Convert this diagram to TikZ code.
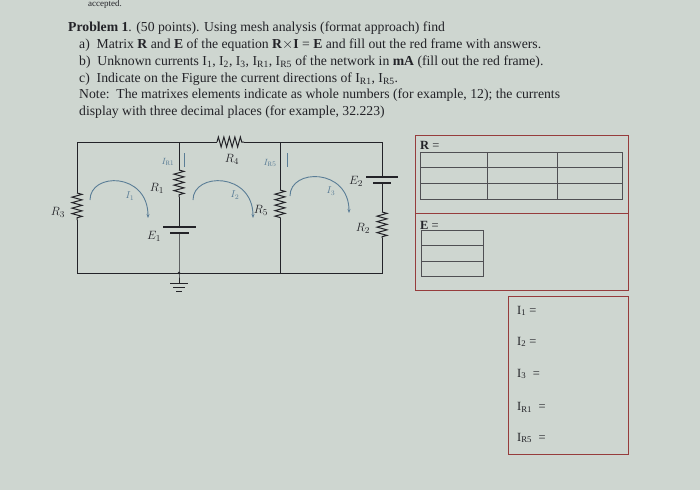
\documentclass[tikz,border=0pt]{standalone}
\usepackage{fontspec}
\setmainfont{Liberation Serif}
\usetikzlibrary{decorations.pathmorphing,arrows.meta}
\definecolor{bgc}{RGB}{206,214,208}
\definecolor{ink}{RGB}{35,35,40}
\definecolor{frm}{RGB}{150,60,60}
\definecolor{mesh}{RGB}{90,125,150}
\tikzset{
 txt/.style={anchor=west,inner sep=0pt,text=ink,font=\fontsize{13.7}{15}\selectfont},
 lbl/.style={inner sep=0pt,text=ink,font=\fontsize{12.5}{13}\selectfont\itshape},
 wire/.style={draw=ink,line width=0.9pt},
 res/.style={draw=ink,line width=1pt,decorate,decoration={zigzag,segment length=5.5pt,amplitude=5pt}},
 plate/.style={draw=ink,line width=1.6pt},
 meshar/.style={draw=mesh,line width=0.9pt,-{Stealth[length=4pt]}},
 redbox/.style={draw=frm,line width=1pt},
 cell/.style={draw=ink!80,line width=0.8pt},
 ans/.style={anchor=west,inner sep=0pt,text=ink,font=\fontsize{12.5}{13}\selectfont}
}
\begin{document}
\begin{tikzpicture}[x=1pt,y=-1pt]
\useasboundingbox (0,0) rectangle (700,490);
\fill[bgc] (0,0) rectangle (700,490);
\node[txt,font=\fontsize{9}{10}\selectfont] (acc) at (88,4) {accepted.};
% problem text
\node[txt] (t0) at (68,28) {\textbf{Problem 1}. (50 points). Using mesh analysis (format approach) find};
\node[txt] (t1) at (79,45) {a)\enspace Matrix \textbf{R} and \textbf{E} of the equation \textbf{R}$\times$\textbf{I} = \textbf{E} and fill out the red frame with answers.};
\node[txt] (t2) at (79,62) {b)\enspace Unknown currents I\textsubscript{1}, I\textsubscript{2}, I\textsubscript{3}, I\textsubscript{R1}, I\textsubscript{R5} of the network in \textbf{mA} (fill out the red frame).};
\node[txt] (t3) at (79,79) {c)\enspace Indicate on the Figure the current directions of I\textsubscript{R1}, I\textsubscript{R5}.};
\node[txt] (t4) at (79,95) {Note:\, The matrixes elements indicate as whole numbers (for example, 12); the currents};
\node[txt] (t5) at (79,112) {display with three decimal places (for example, 32.223)};
% circuit corners
\coordinate (tl) at (77,142); \coordinate (bl) at (77,273);
\coordinate (t1c) at (179,142); \coordinate (b1c) at (179,273);
\coordinate (t2c) at (280,142); \coordinate (b2c) at (280,273);
\coordinate (tr) at (382,142); \coordinate (br) at (382,273);
% outer loop
\draw[wire] (t1c) -- (tl) -- (77,193);
\draw[res] (77,193) -- (77,220);
\draw[wire] (77,220) -- (bl) -- (br) -- (382,238);
\draw[wire] (t1c) -- (217,142);
\draw[res] (217,142) -- (244,142);
\draw[wire] (244,142) -- (tr) -- (382,177);
% E2
\draw[plate] (366,177) -- (398,177);
\draw[plate] (373,183) -- (391,183);
\draw[wire] (382,183) -- (382,212);
\draw[res] (382,212) -- (382,238);
% middle branch 1
\draw[wire] (t1c) -- (179,170);
\draw[res] (179,170) -- (179,197);
\draw[wire] (179,197) -- (179,227);
\draw[plate] (163,227) -- (196,227);
\draw[plate] (170,233) -- (189,233);
\draw[wire] (179,233) -- (b1c) -- (179,283);
\fill[ink] (b1c) circle (1.3);
\draw[wire] (170,283) -- (188,283);
\draw[wire] (173,287) -- (185,287);
\draw[wire] (176,291) -- (182,291);
% middle branch 2
\draw[wire] (t2c) -- (280,190);
\draw[res] (280,190) -- (280,218);
\draw[wire] (280,218) -- (b2c);
% labels
\node[lbl] (lR3) at (58,212) {$R_3$};
\node[lbl] (lR1) at (157,188) {$R_1$};
\node[lbl] (lE1) at (154,236) {$E_1$};
\node[lbl] (lR4) at (232,159) {$R_4$};
\node[lbl] (lR5) at (261,210) {$R_5$};
\node[lbl] (lE2) at (356,181) {$E_2$};
\node[lbl] (lR2) at (363,228) {$R_2$};
\node[lbl,text=mesh,font=\fontsize{9.5}{10}\selectfont\itshape] (lIR1) at (168,162) {$I_{\mathrm{R}1}$};
\node[lbl,text=mesh,font=\fontsize{9.5}{10}\selectfont\itshape] (lIR5) at (270,163) {$I_{\mathrm{R}5}$};
\draw[draw=mesh,line width=0.9pt] (184,153) -- (184,167);
\draw[draw=mesh,line width=0.9pt] (287,153) -- (287,167);
% mesh currents
\draw[meshar] (90,200) .. controls (90,172) and (148,172) .. (148,218);
\draw[meshar] (193,200) .. controls (193,172) and (253,172) .. (253,218);
\draw[meshar] (290,196) .. controls (290,168) and (349,168) .. (349,213);
\node[lbl,text=mesh,font=\fontsize{10}{11}\selectfont\itshape] (lI1) at (130,196) {$I_1$};
\node[lbl,text=mesh,font=\fontsize{10}{11}\selectfont\itshape] (lI2) at (235,195) {$I_2$};
\node[lbl,text=mesh,font=\fontsize{10}{11}\selectfont\itshape] (lI3) at (331,191) {$I_3$};
% red frame
\draw[redbox] (415,135) rectangle (628,290);
\draw[redbox] (415,213) -- (628,213);
\node[ans] (Req) at (420,145) {\textbf{R} =};
\draw[cell] (420,152) rectangle (622,199);
\draw[cell] (420,167) -- (622,167);
\draw[cell] (420,183) -- (622,183);
\draw[cell] (487,152) -- (487,199);
\draw[cell] (557,152) -- (557,199);
\node[ans] (Eeq) at (420,225) {\textbf{E} =};
\draw[cell] (421,230) rectangle (483,276);
\draw[cell] (421,245) -- (483,245);
\draw[cell] (421,261) -- (483,261);
% currents frame
\draw[redbox] (508,296) rectangle (628,454);
\node[ans] (a1) at (517,311) {I\textsubscript{1} =};
\node[ans] (a2) at (517,342) {I\textsubscript{2} =};
\node[ans] (a3) at (517,374) {I\textsubscript{3}\; =};
\node[ans] (a4) at (517,407) {I\textsubscript{R1}\; =};
\node[ans] (a5) at (517,438) {I\textsubscript{R5}\; =};
\end{tikzpicture}
\end{document}
